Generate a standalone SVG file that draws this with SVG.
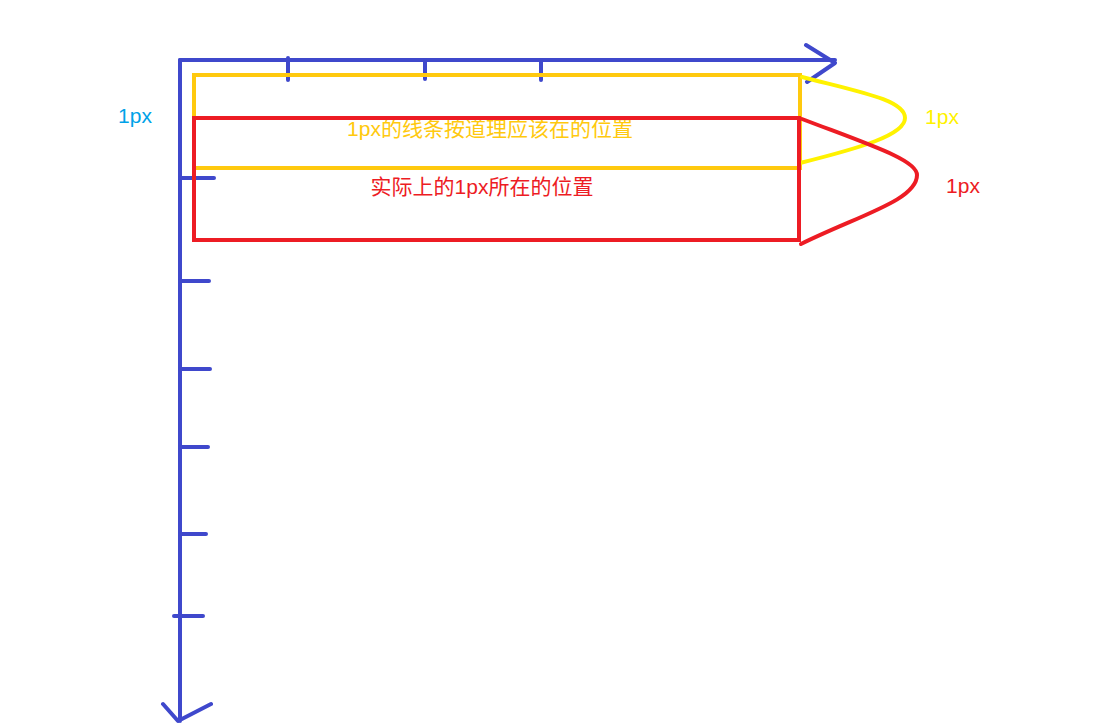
<svg xmlns="http://www.w3.org/2000/svg" width="1115" height="727" viewBox="0 0 1115 727">
<style>
.ax{stroke:#3f48cc;stroke-width:4;fill:none;stroke-linecap:round;stroke-linejoin:round}
.t{font-family:"Liberation Sans","Noto Sans CJK SC",sans-serif;font-size:21px}
</style>
<rect width="1115" height="727" fill="#fff"/>
<g id="axes">
<path class="ax" d="M180,60 H835 M806,45 L835,63 L807,82"/>
<path class="ax" d="M180,60 V721 M163,704 L178,721 L211,704"/>
<path class="ax" d="M288,58 V80 M425,60 V79 M541,60 V80"/>
<path class="ax" d="M180,178 H214 M180,281 H209 M180,369 H210 M180,447 H208 M180,534 H206 M174,616 H203"/>
</g>
<g id="yellow-box">
<rect x="194" y="75" width="606" height="93" fill="none" stroke="#ffc90e" stroke-width="4"/>
<path d="M802,77 C860,92 905,100 905,118 C905,135 860,148 800,163" fill="none" stroke="#fff200" stroke-width="4" stroke-linecap="round"/>
<text class="t" x="490" y="136" text-anchor="middle" fill="#ffc90e">1px的线条按道理应该在的位置</text>
<text class="t" x="942" y="124" text-anchor="middle" fill="#fff200">1px</text>
</g>
<g id="red-box">
<rect x="194" y="118" width="605" height="122" fill="none" stroke="#ed1c24" stroke-width="4"/>
<path d="M802,119 C870,145 917,160 917,175 C917,200 860,215 801,244" fill="none" stroke="#ed1c24" stroke-width="4" stroke-linecap="round"/>
<text class="t" x="482" y="194" text-anchor="middle" fill="#ed1c24">实际上的1px所在的位置</text>
<text class="t" x="963" y="193" text-anchor="middle" fill="#ed1c24">1px</text>
</g>
<g id="label-left">
<text class="t" x="135" y="123" text-anchor="middle" fill="#00a2e8">1px</text>
</g>
</svg>
